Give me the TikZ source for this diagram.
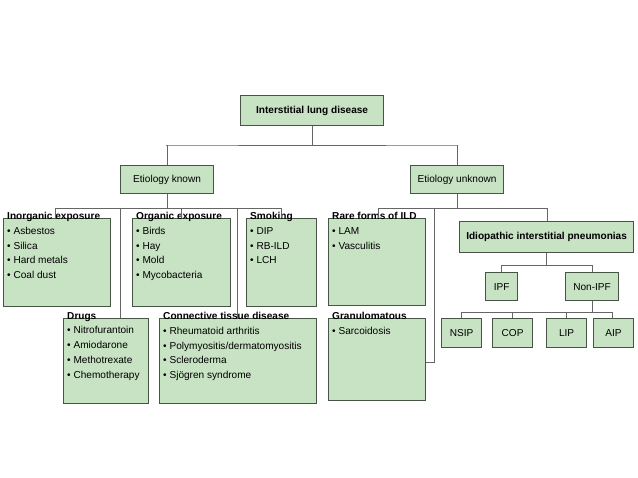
\documentclass[tikz,border=0pt]{standalone}
\usepackage{fontspec}
\setmainfont{Liberation Sans}
\usetikzlibrary{positioning}
\definecolor{boxfill}{RGB}{200,226,196}
\definecolor{boxline}{RGB}{70,85,70}
\begin{document}
\begin{tikzpicture}[x=0.03cm,y=-0.03cm]
    \tikzstyle{box} = [draw=boxline, line width=1pt, fill=boxfill, anchor=north west, inner sep=0pt];
    \tikzstyle{txt} = [anchor=north west, align=left, inner sep=0pt, font=\fontsize{8.6}{12.6}\selectfont];
    \tikzstyle{lbl} = [font=\fontsize{8.6}{10}\selectfont];
    \tikzstyle{link} = [draw=gray!80!black, line width=0.8pt];
    \useasboundingbox (0,0) rectangle (638,478);

    % root and two branches
    \node[box, minimum width=143*0.03cm, minimum height=30*0.03cm, lbl] (ild) at (240,95) {\textbf{Interstitial lung disease}};
    \node[box, minimum width=93*0.03cm, minimum height=28*0.03cm, lbl] (known) at (120,165) {Etiology known};
    \node[box, minimum width=93*0.03cm, minimum height=28*0.03cm, lbl] (unknown) at (410,165) {Etiology unknown};

    % known etiology
    \node[box, minimum width=107*0.03cm, minimum height=88*0.03cm] (inorg) at (3,218) {};
    \node[box, minimum width=98*0.03cm, minimum height=88*0.03cm] (org) at (132,218) {};
    \node[box, minimum width=70*0.03cm, minimum height=88*0.03cm] (smoke) at (246,218) {};
    \node[box, minimum width=85*0.03cm, minimum height=85*0.03cm] (drugs) at (63,318) {};
    \node[box, minimum width=157*0.03cm, minimum height=85*0.03cm] (ctd) at (159,318) {};
    \node[txt] at ([shift={(4,-6)}]inorg.north west) {\textbf{Inorganic exposure}\\• Asbestos\\• Silica\\• Hard metals\\• Coal dust};
    \node[txt] at ([shift={(4,-6)}]org.north west) {\textbf{Organic exposure}\\• Birds\\• Hay\\• Mold\\• Mycobacteria};
    \node[txt] at ([shift={(4,-6)}]smoke.north west) {\textbf{Smoking}\\• DIP\\• RB-ILD\\• LCH};
    \node[txt] at ([shift={(4,-6)}]drugs.north west) {\textbf{Drugs}\\• Nitrofurantoin\\• Amiodarone\\• Methotrexate\\• Chemotherapy};
    \node[txt] at ([shift={(4,-6)}]ctd.north west) {\textbf{Connective tissue disease}\\• Rheumatoid arthritis\\• Polymyositis/dermatomyositis\\• Scleroderma\\• Sjögren syndrome};

    % unknown etiology
    \node[box, minimum width=97*0.03cm, minimum height=87*0.03cm] (rare) at (328,218) {};
    \node[box, minimum width=97*0.03cm, minimum height=82*0.03cm] (gran) at (328,318) {};
    \node[txt] at ([shift={(4,-6)}]rare.north west) {\textbf{Rare forms of ILD}\\• LAM\\• Vasculitis};
    \node[txt] at ([shift={(4,-6)}]gran.north west) {\textbf{Granulomatous}\\• Sarcoidosis};
    \node[box, minimum width=174*0.03cm, minimum height=31*0.03cm, lbl] (iip) at (459,221) {\textbf{Idiopathic interstitial pneumonias}};
    \node[box, minimum width=32*0.03cm, minimum height=28*0.03cm, lbl] (ipf) at (485,272) {IPF};
    \node[box, minimum width=53*0.03cm, minimum height=28*0.03cm, lbl] (nonipf) at (565,272) {Non-IPF};
    \node[box, minimum width=40*0.03cm, minimum height=29*0.03cm, lbl] (nsip) at (441,318) {NSIP};
    \node[box, minimum width=40*0.03cm, minimum height=29*0.03cm, lbl] (cop) at (492,318) {COP};
    \node[box, minimum width=40*0.03cm, minimum height=29*0.03cm, lbl] (lip) at (546,318) {LIP};
    \node[box, minimum width=40*0.03cm, minimum height=29*0.03cm, lbl] (aip) at (593,318) {AIP};

    % connectors
    \draw[link] (ild.south) |- (166,145) -| (known.north);
    \draw[link] (ild.south) |- (458,145) -| (unknown.north);
    \foreach \n/\x in {inorg/55, org/181, smoke/281}
        \draw[link] (known.south) |- (\x,208) -- (\x,218);
    \foreach \n/\x in {drugs/120, ctd/237}
        \draw[link] (known.south) |- (\x,208) -- (\x,318);
    \draw[link] (unknown.south) |- (378,208) -- (378,218);
    \draw[link] (unknown.south) |- (547,208) -- (547,221);
    \draw[link] (434,208) |- (gran.east |- 0,362);
    \draw[link] (iip.south) |- (501,265) -- (ipf.north -| 501,0);
    \draw[link] (iip.south) |- (592,265) -- (592,272);
    \draw[link] (nonipf.south) |- (461,312) -- (461,318);
    \foreach \x in {512, 566, 612}
        \draw[link] (nonipf.south) |- (\x,312) -- (\x,318);
\end{tikzpicture}
\end{document}
